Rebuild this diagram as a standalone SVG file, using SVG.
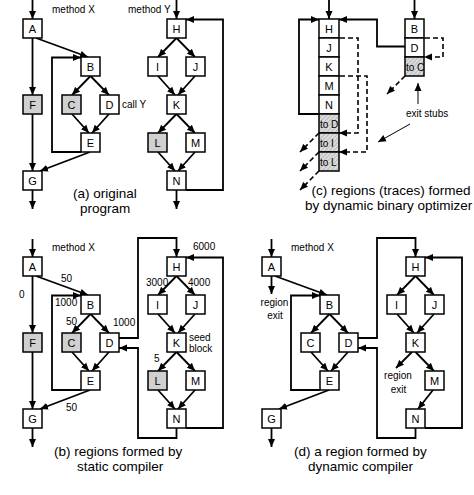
<svg xmlns="http://www.w3.org/2000/svg" width="474" height="495" viewBox="0 0 474 495">
<style>
.bx{fill:#fff;stroke:#000;stroke-width:1.5}
.gr{fill:#d0d0d0}
.st{fill:url(#hatch)}
.bl{font-family:"Liberation Sans",Arial,sans-serif;font-size:11px;text-anchor:middle;fill:#000}
.sl{font-family:"Liberation Sans",Arial,sans-serif;font-size:10px;fill:#000}
.cap{font-family:"Liberation Sans",Arial,sans-serif;font-size:13.5px;fill:#000}
.e{fill:none;stroke:#000;stroke-width:1.8;marker-end:url(#ah)}
.p{fill:none;stroke:#000;stroke-width:1.8}
.d{fill:none;stroke:#000;stroke-width:1.6;stroke-dasharray:5,3;marker-end:url(#ah)}
.t{fill:none;stroke:#000;stroke-width:1;marker-end:url(#ah2)}
</style>
<defs>
<marker id="ah" markerUnits="userSpaceOnUse" markerWidth="9" markerHeight="8" refX="8" refY="4" orient="auto"><path d="M0,0.5 L8,4 L0,7.5 z" fill="#000"/></marker>
<marker id="ah2" markerUnits="userSpaceOnUse" markerWidth="9" markerHeight="8" refX="8" refY="4" orient="auto"><path d="M0,0.5 L8,4 L0,7.5 z" fill="#000"/></marker>
<pattern id="hatch" patternUnits="userSpaceOnUse" width="3" height="3" patternTransform="rotate(45)"><rect width="3" height="3" fill="#dcdcdc"/><line x1="0" y1="0" x2="0" y2="3" stroke="#9a9a9a" stroke-width="1"/></pattern>
</defs>

<g id="connectors">
<!-- (a) -->
<path class="e" d="M32.5,0 V19"/>
<path class="e" d="M32.5,38 V95"/>
<path class="e" d="M32.5,114 V171"/>
<path class="e" d="M32.5,190 V209"/>
<path class="e" d="M36,38 L88,57"/>
<path class="e" d="M90.5,76 L72,95"/>
<path class="e" d="M90.5,76 L109,95"/>
<path class="e" d="M72,114 L89,133"/>
<path class="e" d="M109,114 L92,133"/>
<path class="e" d="M90,152 L40,171"/>
<path class="e" d="M81,152 H52 V57.5 H81"/>
<path class="e" d="M176.5,0 V19"/>
<path class="e" d="M176.5,38 L158,57"/>
<path class="e" d="M176.5,38 L195,57"/>
<path class="e" d="M158,76 L175,95"/>
<path class="e" d="M195,76 L178,95"/>
<path class="e" d="M176.5,114 L158,133"/>
<path class="e" d="M176.5,114 L195,133"/>
<path class="e" d="M158,152 L175,171"/>
<path class="e" d="M195,152 L178,171"/>
<path class="e" d="M176.5,190 V209"/>
<path class="e" d="M186,190 H223 V19.5 H186"/>
<!-- (b) -->
<path class="e" d="M32.5,239 V257"/>
<path class="e" d="M32.5,276 V333"/>
<path class="e" d="M32.5,352 V409"/>
<path class="e" d="M32.5,428 V447"/>
<path class="e" d="M36,276 L88,295"/>
<path class="e" d="M90.5,314 L72,333"/>
<path class="e" d="M90.5,314 L109,333"/>
<path class="e" d="M72,352 L89,371"/>
<path class="e" d="M109,352 L92,371"/>
<path class="e" d="M90,390 L40,409"/>
<path class="e" d="M81,390 H52 V295.5 H81"/>
<path class="e" d="M119,338 H138 V238 H176.5 V257"/>
<path class="e" d="M176.5,428 V438 H138 V348 H119"/>
<path class="e" d="M176.5,276 L158,295"/>
<path class="e" d="M176.5,276 L195,295"/>
<path class="e" d="M158,314 L175,333"/>
<path class="e" d="M195,314 L178,333"/>
<path class="e" d="M176.5,352 L158,371"/>
<path class="e" d="M176.5,352 L195,371"/>
<path class="e" d="M158,390 L175,409"/>
<path class="e" d="M195,390 L178,409"/>
<path class="e" d="M186,428 H223 V257.5 H186"/>
<!-- (c) -->
<path class="e" d="M329,0 V19"/>
<path class="e" d="M414.5,0 V19"/>
<path class="e" d="M319,114 H299 V19.5 H319"/>
<path class="e" d="M405,46.5 H377 V19.5 H339"/>
<path class="d" d="M340,38 H358 V133 H339"/>
<path class="d" d="M340,76 H367 V152 H339"/>
<path class="d" d="M425,38 H443 V57 H424"/>
<path class="d" d="M319,133 L300,152"/>
<path class="d" d="M319,152 L300,171"/>
<path class="d" d="M319,171 L300,190"/>
<path class="d" d="M405,76 L387,94"/>
<path class="t" d="M418,104 V83"/>
<path class="t" d="M410,124 L378,142"/>
<!-- (d) -->
<path class="e" d="M271.5,239 V257"/>
<path class="e" d="M271.5,276 V294"/>
<path class="e" d="M275,276 L327,295"/>
<path class="e" d="M329.5,314 L311,333"/>
<path class="e" d="M329.5,314 L348,333"/>
<path class="e" d="M311,352 L328,371"/>
<path class="e" d="M348,352 L331,371"/>
<path class="e" d="M329,390 L279,409"/>
<path class="e" d="M271.5,428 V447"/>
<path class="e" d="M320,390 H291 V295.5 H320"/>
<path class="e" d="M358,338 H377 V238 H415.5 V257"/>
<path class="e" d="M415.5,428 V438 H377 V348 H358"/>
<path class="e" d="M415.5,276 L397,295"/>
<path class="e" d="M415.5,276 L434,295"/>
<path class="e" d="M397,314 L414,333"/>
<path class="e" d="M434,314 L417,333"/>
<path class="e" d="M412,352 L396,368"/>
<path class="e" d="M415.5,352 L434,371"/>
<path class="e" d="M433,390 L418,409"/>
<path class="e" d="M425,428 H462 V257.5 H425"/>
</g>

<!-- (a) nodes -->
<g id="a-A"><rect class="bx" x="23" y="19" width="19" height="19"/><text class="bl" x="32.5" y="32.5">A</text></g>
<g id="a-F"><rect class="bx gr" x="23" y="95" width="19" height="19"/><text class="bl" x="32.5" y="108.5">F</text></g>
<g id="a-G"><rect class="bx" x="23" y="171" width="19" height="19"/><text class="bl" x="32.5" y="184.5">G</text></g>
<g id="a-B"><rect class="bx" x="81" y="57" width="19" height="19"/><text class="bl" x="90.5" y="70.5">B</text></g>
<g id="a-C"><rect class="bx gr" x="62" y="95" width="19" height="19"/><text class="bl" x="71.5" y="108.5">C</text></g>
<g id="a-D"><rect class="bx" x="100" y="95" width="19" height="19"/><text class="bl" x="109.5" y="108.5">D</text></g>
<g id="a-E"><rect class="bx" x="81" y="133" width="19" height="19"/><text class="bl" x="90.5" y="146.5">E</text></g>
<g id="a-H"><rect class="bx" x="167" y="19" width="19" height="19"/><text class="bl" x="176.5" y="32.5">H</text></g>
<g id="a-I"><rect class="bx" x="148" y="57" width="19" height="19"/><text class="bl" x="157.5" y="70.5">I</text></g>
<g id="a-J"><rect class="bx" x="186" y="57" width="19" height="19"/><text class="bl" x="195.5" y="70.5">J</text></g>
<g id="a-K"><rect class="bx" x="167" y="95" width="19" height="19"/><text class="bl" x="176.5" y="108.5">K</text></g>
<g id="a-L"><rect class="bx gr" x="148" y="133" width="19" height="19"/><text class="bl" x="157.5" y="146.5">L</text></g>
<g id="a-M"><rect class="bx" x="186" y="133" width="19" height="19"/><text class="bl" x="195.5" y="146.5">M</text></g>
<g id="a-N"><rect class="bx" x="167" y="171" width="19" height="19"/><text class="bl" x="176.5" y="184.5">N</text></g>
<g id="a-labels">
<text class="sl" x="52" y="12.5">method X</text>
<text class="sl" x="128" y="12.5">method Y</text>
<text class="sl" x="122" y="108">call Y</text>
<text class="cap" x="73" y="198">(a) original</text>
<text class="cap" x="80" y="213">program</text>
</g>

<!-- (b) nodes -->
<g id="b-A"><rect class="bx" x="23" y="257" width="19" height="19"/><text class="bl" x="32.5" y="270.5">A</text></g>
<g id="b-F"><rect class="bx gr" x="23" y="333" width="19" height="19"/><text class="bl" x="32.5" y="346.5">F</text></g>
<g id="b-G"><rect class="bx" x="23" y="409" width="19" height="19"/><text class="bl" x="32.5" y="422.5">G</text></g>
<g id="b-B"><rect class="bx" x="81" y="295" width="19" height="19"/><text class="bl" x="90.5" y="308.5">B</text></g>
<g id="b-C"><rect class="bx gr" x="62" y="333" width="19" height="19"/><text class="bl" x="71.5" y="346.5">C</text></g>
<g id="b-D"><rect class="bx" x="100" y="333" width="19" height="19"/><text class="bl" x="109.5" y="346.5">D</text></g>
<g id="b-E"><rect class="bx" x="81" y="371" width="19" height="19"/><text class="bl" x="90.5" y="384.5">E</text></g>
<g id="b-H"><rect class="bx" x="167" y="257" width="19" height="19"/><text class="bl" x="176.5" y="270.5">H</text></g>
<g id="b-I"><rect class="bx" x="148" y="295" width="19" height="19"/><text class="bl" x="157.5" y="308.5">I</text></g>
<g id="b-J"><rect class="bx" x="186" y="295" width="19" height="19"/><text class="bl" x="195.5" y="308.5">J</text></g>
<g id="b-K"><rect class="bx" x="167" y="333" width="19" height="19"/><text class="bl" x="176.5" y="346.5">K</text></g>
<g id="b-L"><rect class="bx gr" x="148" y="371" width="19" height="19"/><text class="bl" x="157.5" y="384.5">L</text></g>
<g id="b-M"><rect class="bx" x="186" y="371" width="19" height="19"/><text class="bl" x="195.5" y="384.5">M</text></g>
<g id="b-N"><rect class="bx" x="167" y="409" width="19" height="19"/><text class="bl" x="176.5" y="422.5">N</text></g>
<g id="b-labels">
<text class="sl" x="52" y="251">method X</text>
<text class="sl" x="61" y="282">50</text>
<text class="sl" x="19" y="298">0</text>
<text class="sl" x="55" y="306">1000</text>
<text class="sl" x="66" y="325">50</text>
<text class="sl" x="113" y="326">1000</text>
<text class="sl" x="66" y="411">50</text>
<text class="sl" x="193" y="250">6000</text>
<text class="sl" x="146" y="286">3000</text>
<text class="sl" x="188" y="286">4000</text>
<text class="sl" x="189" y="341">seed</text>
<text class="sl" x="189" y="352">block</text>
<text class="sl" x="154" y="362">5</text>
<text class="cap" x="54" y="456">(b) regions formed by</text>
<text class="cap" x="77" y="471">static compiler</text>
</g>

<!-- (c) nodes -->
<g id="c-trace1">
<rect class="bx" x="319" y="19" width="20" height="19"/><text class="bl" x="329" y="32.5">H</text>
<rect class="bx" x="319" y="38" width="20" height="19"/><text class="bl" x="329" y="51.5">J</text>
<rect class="bx" x="319" y="57" width="20" height="19"/><text class="bl" x="329" y="70.5">K</text>
<rect class="bx" x="319" y="76" width="20" height="19"/><text class="bl" x="329" y="89.5">M</text>
<rect class="bx" x="319" y="95" width="20" height="19"/><text class="bl" x="329" y="108.5">N</text>
<rect class="bx st" x="319" y="114" width="20" height="19"/><text class="sl" x="320" y="127.5">to D</text>
<rect class="bx st" x="319" y="133" width="20" height="19"/><text class="sl" x="320" y="146.5">to I</text>
<rect class="bx st" x="319" y="152" width="20" height="19"/><text class="sl" x="320" y="165.5">to L</text>
</g>
<g id="c-trace2">
<rect class="bx" x="405" y="19" width="19" height="19"/><text class="bl" x="414.5" y="32.5">B</text>
<rect class="bx" x="405" y="38" width="19" height="19"/><text class="bl" x="414.5" y="51.5">D</text>
<rect class="bx st" x="405" y="57" width="19" height="19"/><text class="sl" x="406" y="70.5">to C</text>
</g>
<g id="c-labels">
<text class="sl" x="406" y="117">exit stubs</text>
<text class="cap" x="311.5" y="195">(c) regions (traces) formed</text>
<text class="cap" x="305" y="210">by dynamic binary optimizer</text>
</g>

<!-- (d) nodes -->
<g id="d-A"><rect class="bx" x="262" y="257" width="19" height="19"/><text class="bl" x="271.5" y="270.5">A</text></g>
<g id="d-G"><rect class="bx" x="262" y="409" width="19" height="19"/><text class="bl" x="271.5" y="422.5">G</text></g>
<g id="d-B"><rect class="bx" x="320" y="295" width="19" height="19"/><text class="bl" x="329.5" y="308.5">B</text></g>
<g id="d-C"><rect class="bx" x="301" y="333" width="19" height="19"/><text class="bl" x="310.5" y="346.5">C</text></g>
<g id="d-D"><rect class="bx" x="339" y="333" width="19" height="19"/><text class="bl" x="348.5" y="346.5">D</text></g>
<g id="d-E"><rect class="bx" x="320" y="371" width="19" height="19"/><text class="bl" x="329.5" y="384.5">E</text></g>
<g id="d-H"><rect class="bx" x="406" y="257" width="19" height="19"/><text class="bl" x="415.5" y="270.5">H</text></g>
<g id="d-I"><rect class="bx" x="387" y="295" width="19" height="19"/><text class="bl" x="396.5" y="308.5">I</text></g>
<g id="d-J"><rect class="bx" x="425" y="295" width="19" height="19"/><text class="bl" x="434.5" y="308.5">J</text></g>
<g id="d-K"><rect class="bx" x="406" y="333" width="19" height="19"/><text class="bl" x="415.5" y="346.5">K</text></g>
<g id="d-M"><rect class="bx" x="425" y="371" width="19" height="19"/><text class="bl" x="434.5" y="384.5">M</text></g>
<g id="d-N"><rect class="bx" x="406" y="409" width="19" height="19"/><text class="bl" x="415.5" y="422.5">N</text></g>
<g id="d-labels">
<text class="sl" x="291" y="251">method X</text>
<text class="sl" x="274.5" y="306" text-anchor="middle">region</text>
<text class="sl" x="275" y="319" text-anchor="middle">exit</text>
<text class="sl" x="398" y="379" text-anchor="middle">region</text>
<text class="sl" x="398.5" y="393" text-anchor="middle">exit</text>
<text class="cap" x="294" y="456">(d) a region formed by</text>
<text class="cap" x="308" y="471">dynamic compiler</text>
</g>
</svg>
